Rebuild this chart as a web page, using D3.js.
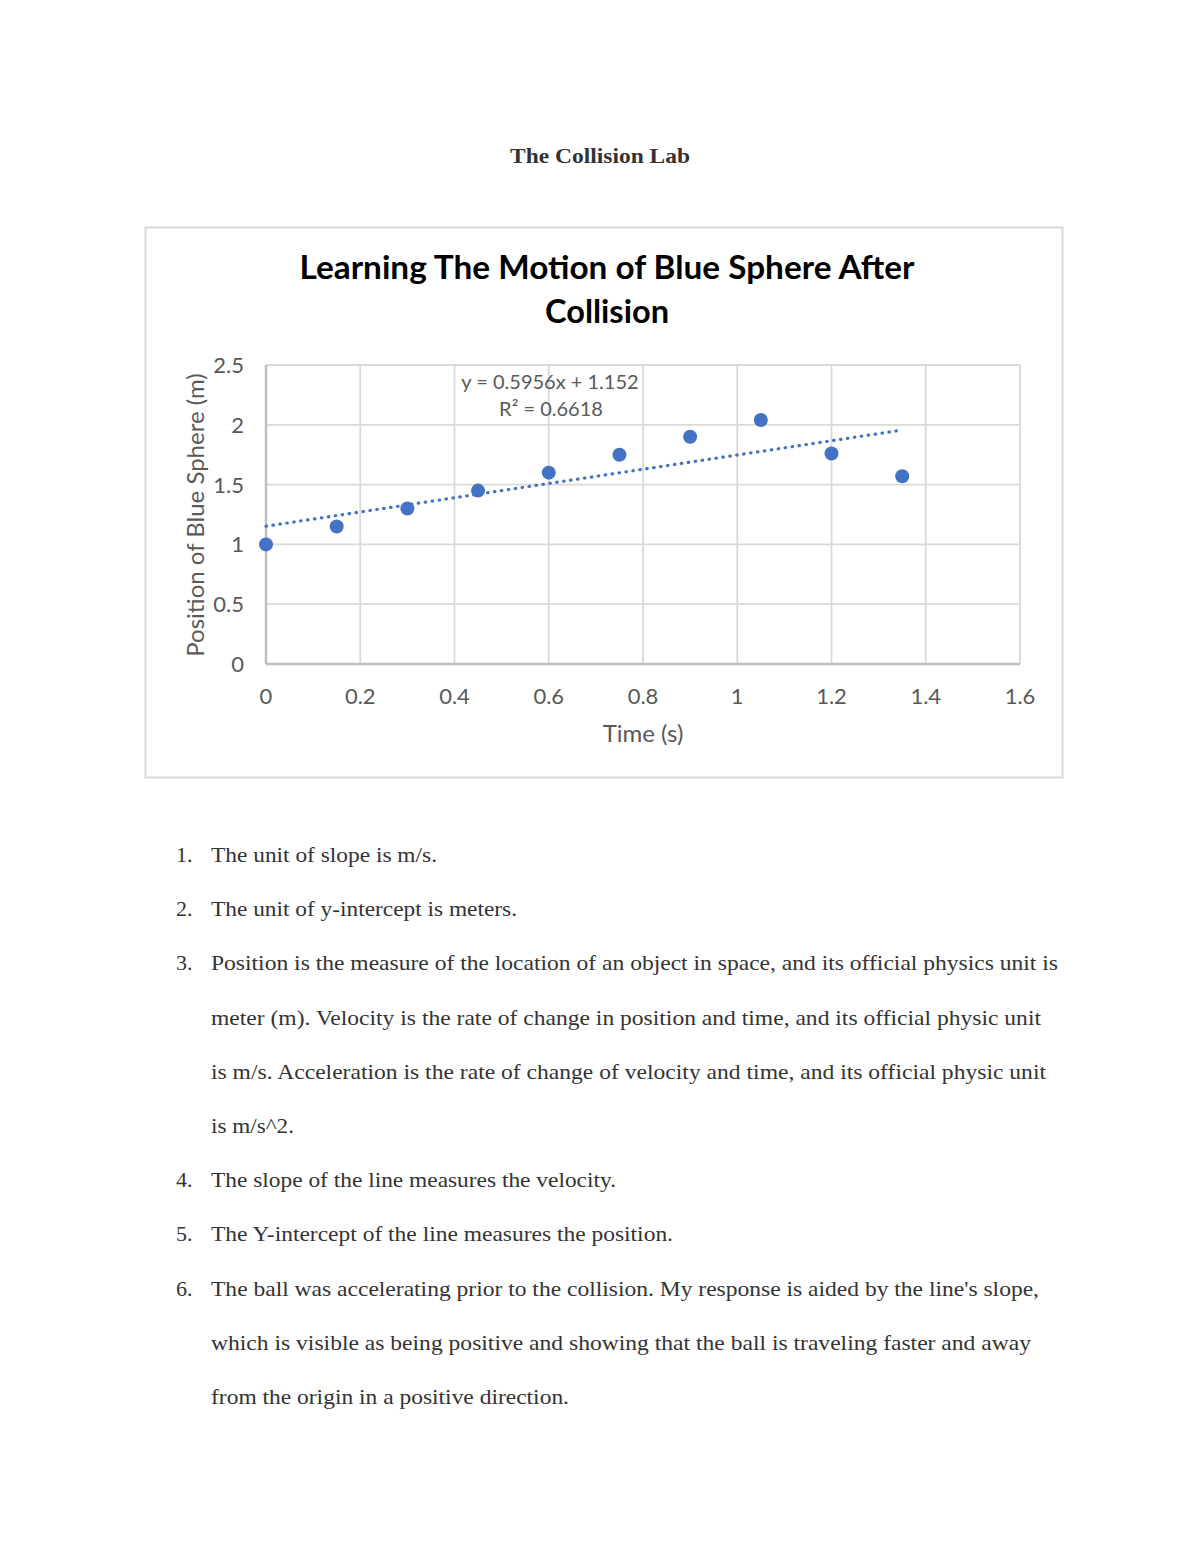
<!DOCTYPE html>
<html>
<head>
<meta charset="utf-8">
<script src="https://cdnjs.cloudflare.com/ajax/libs/d3/7.8.5/d3.min.js"></script>
<style>
  body { margin: 0; background: #fff; }
</style>
</head>
<body>
<div id="page"></div>
<script>
// data
var times = [0, 0.15, 0.3, 0.45, 0.6, 0.75, 0.9, 1.05, 1.2, 1.35];
var positions = [1.0, 1.15, 1.3, 1.45, 1.6, 1.75, 1.9, 2.04, 1.76, 1.57];
var trendSlope = 0.5956, trendIntercept = 1.152, trendR2 = 0.6618;
var xTicks = [0, 0.2, 0.4, 0.6, 0.8, 1, 1.2, 1.4, 1.6];
var yTicks = [0, 0.5, 1, 1.5, 2, 2.5];
var titleLines = ["Learning The Motion of Blue Sphere After", "Collision"];
var titleWidths = [615, 124];

// answer lines, with their width in the picture
var answers = [
  { num: "1.", lines: [["The unit of slope is m/s.", 226]] },
  { num: "2.", lines: [["The unit of y-intercept is meters.", 306]] },
  { num: "3.", lines: [["Position is the measure of the location of an object in space, and its official physics unit is", 847],
                       ["meter (m). Velocity is the rate of change in position and time, and its official physic unit", 830],
                       ["is m/s. Acceleration is the rate of change of velocity and time, and its official physic unit", 835],
                       ["is m/s^2.", 83]] },
  { num: "4.", lines: [["The slope of the line measures the velocity.", 405]] },
  { num: "5.", lines: [["The Y-intercept of the line measures the position.", 462]] },
  { num: "6.", lines: [["The ball was accelerating prior to the collision. My response is aided by the line's slope,", 828],
                       ["which is visible as being positive and showing that the ball is traveling faster and away", 820],
                       ["from the origin in a positive direction.", 358]] }
];

var W = 1200, H = 1553;
var serif = "'Liberation Serif', 'DejaVu Serif', serif";
var sans = "Lato, 'Open Sans', sans-serif";

var svg = d3.select("#page").append("svg")
    .attr("width", W).attr("height", H);

svg.append("text")
    .attr("x", 600).attr("y", 163)
    .attr("text-anchor", "middle")
    .attr("font-family", serif).attr("font-size", 22).attr("font-weight", "bold")
    .attr("fill", "#333")
    .attr("textLength", 180).attr("lengthAdjust", "spacingAndGlyphs")
    .text("The Collision Lab");

// chart frame
svg.append("rect")
    .attr("x", 145.5).attr("y", 227.5).attr("width", 917).attr("height", 550)
    .attr("fill", "#fff").attr("stroke", "#d9d9d9").attr("stroke-width", 2);

svg.selectAll(".ctitle").data(titleLines).enter().append("text")
    .attr("class", "ctitle")
    .attr("x", 607).attr("y", function(d, i){ return 279 + i * 44; })
    .attr("text-anchor", "middle")
    .attr("font-family", sans).attr("font-size", 32).attr("font-weight", "bold")
    .attr("fill", "#000")
    .attr("textLength", function(d, i){ return titleWidths[i]; })
    .attr("lengthAdjust", "spacingAndGlyphs")
    .text(function(d){ return d; });

var x = d3.scaleLinear().domain([0, 1.6]).range([266, 1020]);
var y = d3.scaleLinear().domain([0, 2.5]).range([664, 365]);

var g = svg.append("g");

// grid
g.selectAll(".vgrid").data(xTicks).enter().append("line")
    .attr("x1", function(d){ return x(d); }).attr("x2", function(d){ return x(d); })
    .attr("y1", y(2.5)).attr("y2", y(0))
    .attr("stroke", "#d9d9d9").attr("stroke-width", 1.8);
g.selectAll(".hgrid").data(yTicks).enter().append("line")
    .attr("x1", x(0)).attr("x2", x(1.6))
    .attr("y1", function(d){ return y(d); }).attr("y2", function(d){ return y(d); })
    .attr("stroke", "#d9d9d9").attr("stroke-width", 1.8);

// axis lines
g.append("line").attr("x1", x(0)).attr("x2", x(1.6)).attr("y1", y(0)).attr("y2", y(0))
    .attr("stroke", "#bfbfbf").attr("stroke-width", 2.5);
g.append("line").attr("x1", x(0)).attr("x2", x(0)).attr("y1", y(0)).attr("y2", y(2.5))
    .attr("stroke", "#bfbfbf").attr("stroke-width", 2.5);

// tick labels
g.selectAll(".xl").data(xTicks).enter().append("text")
    .attr("x", function(d){ return x(d); }).attr("y", 704)
    .attr("text-anchor", "middle")
    .attr("font-family", sans).attr("font-size", 22).attr("fill", "#595959")
    .text(function(d){ return d; });
g.selectAll(".yl").data(yTicks).enter().append("text")
    .attr("x", 244).attr("y", function(d){ return y(d) + 8; })
    .attr("text-anchor", "end")
    .attr("font-family", sans).attr("font-size", 22).attr("fill", "#595959")
    .text(function(d){ return d; });

// axis titles
svg.append("text")
    .attr("x", 643).attr("y", 742)
    .attr("text-anchor", "middle")
    .attr("font-family", sans).attr("font-size", 24).attr("fill", "#595959")
    .text("Time (s)");
svg.append("text")
    .attr("transform", "translate(204,515) rotate(-90)")
    .attr("text-anchor", "middle")
    .attr("font-family", sans).attr("font-size", 24).attr("fill", "#595959")
    .text("Position of Blue Sphere (m)");

// trendline
var trendX = d3.extent(times);
g.append("line")
    .attr("x1", x(trendX[0])).attr("y1", y(trendIntercept + trendSlope * trendX[0]))
    .attr("x2", x(trendX[1])).attr("y2", y(trendIntercept + trendSlope * trendX[1]))
    .attr("stroke", "#4472c4").attr("stroke-width", 3.2)
    .attr("stroke-linecap", "round")
    .attr("stroke-dasharray", "0.5,6.5");

// points
g.selectAll(".pt").data(times).enter().append("circle")
    .attr("cx", function(d){ return x(d); })
    .attr("cy", function(d, i){ return y(positions[i]); })
    .attr("r", 7)
    .attr("fill", "#4472c4");

// equation label
var eq = svg.append("g").attr("font-family", sans).attr("font-size", 20).attr("fill", "#595959")
    .attr("text-anchor", "middle");
eq.append("text").attr("x", 550).attr("y", 389)
    .text("y = " + trendSlope + "x + " + trendIntercept);
eq.append("text").attr("x", 551).attr("y", 416)
    .text("R² = " + trendR2);

// numbered answers
var lineY = 862, step = 54.2;
var body = svg.append("g").attr("font-family", serif).attr("font-size", 22).attr("fill", "#333");
answers.forEach(function(a){
  body.append("text").attr("x", 176).attr("y", lineY).text(a.num);
  a.lines.forEach(function(l){
    body.append("text").attr("x", 211).attr("y", lineY)
        .attr("textLength", l[1]).attr("lengthAdjust", "spacingAndGlyphs")
        .text(l[0]);
    lineY += step;
  });
});
</script>
</body>
</html>
